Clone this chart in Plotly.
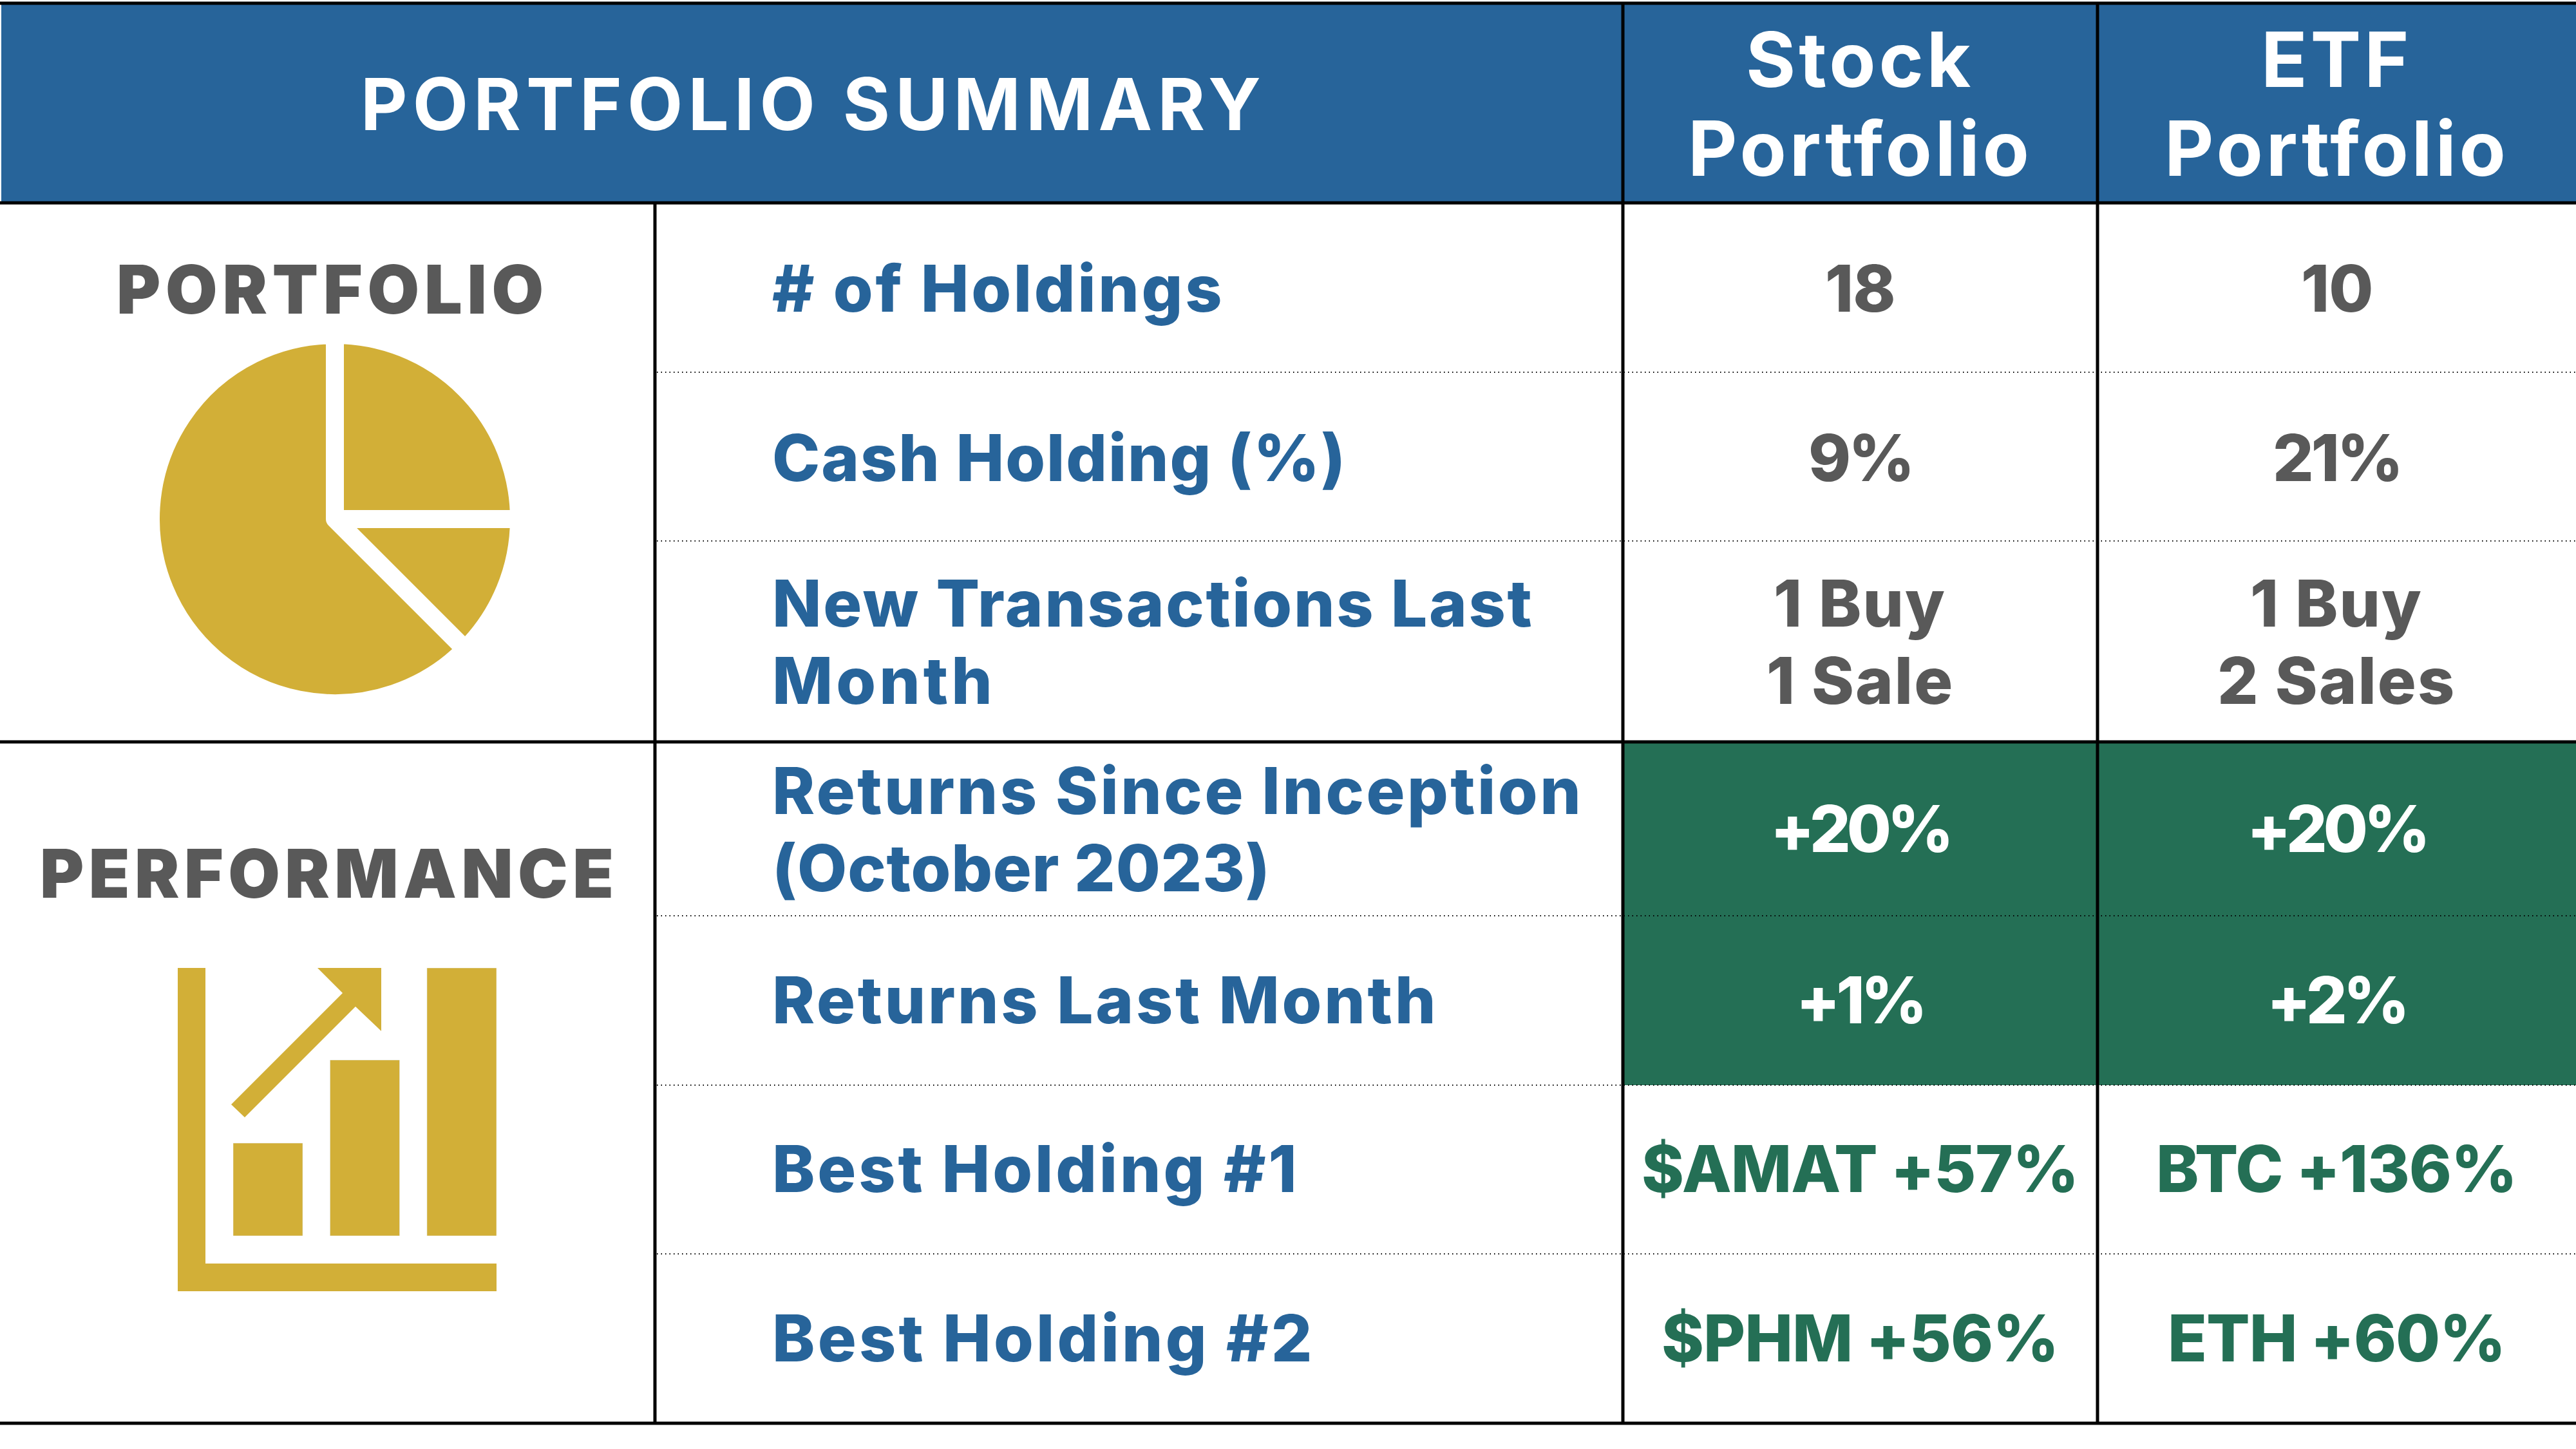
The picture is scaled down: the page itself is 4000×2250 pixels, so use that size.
import plotly.graph_objects as go

# table content
header_title = "PORTFOLIO SUMMARY"
col_names = ["Stock<br>Portfolio", "ETF<br>Portfolio"]
section_names = ["PORTFOLIO", "PERFORMANCE"]
row_labels = ["# of Holdings", "Cash Holding (%)", "New Transactions Last<br>Month",
              "Returns Since Inception<br>(October 2023)", "Returns Last Month",
              "Best Holding #1", "Best Holding #2"]
stock_values = ["18", "9%", "1 Buy<br>1 Sale", "+20%", "+1%", "$AMAT +57%", "$PHM +56%"]
etf_values = ["10", "21%", "1 Buy<br>2 Sales", "+20%", "+2%", "BTC +136%", "ETH +60%"]

# icon values, estimated
pie_icon = [25, 12.5, 62.5]
bar_icon = [144, 273, 416]

W, H = 4000, 2250
BLUE = "#27649A"
GOLD = "#D2AF37"
GREEN = "#246F55"
GREY = "#595959"
FONT = "Inter"

# grid, in pixels of the picture
col_edges = [1017, 2520, 3257]
col_centers = [2888, 3628]
row_centers = [447, 710, 996, 1287, 1552, 1814, 2077]
value_centers = [447, 710, 996, 1286, 1552, 1814, 2077]
label_spacing = [[3.7], [1.9], [2.7, 5], [3.5, 0.8], [3.75], [3.9], [4.2]]
value_spacing = [-1, -4, 2, -6, -6, -1, -1]
dotted_rows = [578, 840, 1422, 1685, 1947]

fig = go.Figure()

# pie icon, the white outline makes the gaps
fig.add_trace(go.Pie(values=pie_icon, sort=False, direction="clockwise", rotation=0,
                     marker=dict(colors=[GOLD] * 3, line=dict(color="white", width=28)),
                     textinfo="none", hoverinfo="skip", showlegend=False,
                     domain=dict(x=[(520 - 286) / W, (520 + 286) / W],
                                 y=[1 - (806 + 286) / H, 1 - (806 - 286) / H])))

# bars of the chart icon
fig.add_trace(go.Bar(x=[0, 1, 2], y=bar_icon, marker_color=GOLD, xaxis="x2", yaxis="y2",
                     hoverinfo="skip", showlegend=False))

shapes = []
shapes.append(dict(type="rect", x0=2, x1=W, y0=5, y1=315, fillcolor=BLUE, line_width=0, layer="below"))
shapes.append(dict(type="rect", x0=col_edges[1], x1=W, y0=1152, y1=1685, fillcolor=GREEN, line_width=0, layer="below"))

for y in dotted_rows:
    shapes.append(dict(type="line", x0=1020, x1=W, y0=y, y1=y, layer="below",
                       line=dict(color="black", width=2, dash="1.5px,5px")))
for y in [5, 315, 1152, 2210]:
    shapes.append(dict(type="line", x0=0, x1=W, y0=y, y1=y, line=dict(color="black", width=5)))
shapes.append(dict(type="line", x0=col_edges[0], x1=col_edges[0], y0=315, y1=2210, line=dict(color="black", width=5)))
for x in col_edges[1:]:
    shapes.append(dict(type="line", x0=x, x1=x, y0=5, y1=2210, line=dict(color="black", width=5)))

# axes and arrow of the chart icon
shapes.append(dict(type="path", path="M276,1503 L319,1503 L319,1962 L771,1962 L771,2005 L276,2005 Z",
                   fillcolor=GOLD, line_width=0))
shapes.append(dict(type="path", path="M493,1503 L592,1503 L592,1601 L552,1563 L380,1735 L359,1715 L532,1542 Z",
                   fillcolor=GOLD, line_width=0))

annotations = []


def add_text(text, x, y, size, color, weight=800, xanchor="center", spacing=(0,), gap=120):
    lines = text.split("<br>")
    top = y - gap * (len(lines) - 1) / 2
    for i, line in enumerate(lines):
        ls = spacing[i % len(spacing)]
        annotations.append(dict(text=f'<span style="letter-spacing:{ls}px">{line}</span>',
                                x=x, y=top + i * gap, xref="x", yref="y",
                                xanchor=xanchor, yanchor="middle", showarrow=False,
                                font=dict(family=FONT, size=size, color=color, weight=weight)))


add_text(header_title, 1263, 161, 112, "white", 700, spacing=[8.2])
add_text(col_names[0], col_centers[0], 161, 118, "white", 700, spacing=[4.9], gap=138)
add_text(col_names[1], col_centers[1], 161, 118, "white", 700, spacing=[4.9], gap=138)
add_text(section_names[0], 516, 449, 104, GREY, 900, spacing=[7.8])
add_text(section_names[1], 511, 1356, 104, GREY, 900, spacing=[7.5])

for i, label in enumerate(row_labels):
    add_text(label, 1197, row_centers[i], 100, BLUE, xanchor="left", spacing=label_spacing[i])
    for values, cx in zip([stock_values, etf_values], col_centers):
        if i in (3, 4):
            color = "white"
        elif i > 4:
            color = GREEN
        else:
            color = GREY
        add_text(values[i], cx, value_centers[i], 100, color, spacing=[value_spacing[i]])

fig.update_layout(
    width=W, height=H, margin=dict(l=0, r=0, t=0, b=0),
    paper_bgcolor="white", plot_bgcolor="white", showlegend=False,
    xaxis=dict(range=[0, W], visible=False, fixedrange=True),
    yaxis=dict(range=[H, 0], visible=False, fixedrange=True),
    xaxis2=dict(domain=[362 / W, 771 / W], range=[-0.359, 2.359], visible=False, anchor="y2"),
    yaxis2=dict(domain=[1 - 1919 / H, 1 - 1503 / H], range=[0, 416], visible=False, anchor="x2"),
    bargap=0.282,
    shapes=shapes, annotations=annotations,
)

# the page margin would push the picture off its place
fig.write_html("out.html", config={"displayModeBar": False},
               post_script="document.body.style.margin = '0';")
